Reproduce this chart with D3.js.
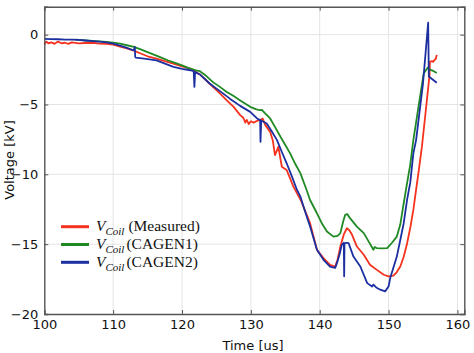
<!DOCTYPE html>
<html><head><meta charset="utf-8">
<script src="https://cdn.jsdelivr.net/npm/d3@7"></script>
<style>body{margin:0;background:#fff}svg{display:block}</style>
</head><body>
<svg id="c" width="474" height="353"></svg>
<script>
// ---- data (time in us, voltage in kV) ----
const measuredT = [100,100.3,100.6,101,101.5,102,102.5,103,103.5,104,105,106,107,108,109,110,111,112,113,114,115,116.3,117.5,118.75,120,121.2,122.6,124,125.5,126.5,127.5,128.45,128.9,129.2,129.4,129.7,130,130.4,131,131.35,131.7,132.1,132.8,133.2,133.5,134,134.5,135.2,136.2,137.3,138.6,139.6,140.55,141.5,142.25,142.6,143,143.5,143.95,144.3,144.7,145.4,146.4,147.3,148.3,149.3,150,150.7,151.2,151.7,152.2,152.7,153.2,153.6,154,154.4,154.85,155.5,155.95,156,156.3,156.5,156.7,156.85,157];
const measuredV = [-0.7,-0.5,-0.62,-0.55,-0.66,-0.5,-0.62,-0.58,-0.66,-0.55,-0.62,-0.6,-0.58,-0.64,-0.66,-0.72,-0.85,-0.98,-1.15,-1.35,-1.55,-1.71,-1.9,-2.07,-2.28,-2.43,-2.85,-3.5,-4.21,-4.7,-5.17,-5.76,-5.95,-6.3,-6.1,-6.4,-6.2,-6.3,-6.15,-6.12,-6.0,-6.48,-6.96,-7.6,-8.62,-8.03,-9.46,-9.69,-10.9,-11.9,-13.5,-15.4,-16.0,-16.48,-16.6,-16.1,-15.17,-14.3,-13.86,-14.0,-14.33,-15.17,-15.76,-16.48,-16.84,-17.19,-17.3,-17.25,-17.0,-16.6,-15.9,-14.93,-13.7,-12.55,-11.1,-9.69,-8.0,-5.0,-2.9,-1.95,-1.9,-1.95,-1.8,-1.75,-1.45];

const cagen1T = [104.5,105,106,107,108,109,110,111,112,113,114,115,116,117,118,119,120,121,122,122.6,123.5,124.5,125.5,126.5,127.5,128.4,129.9,130.8,131.3,131.6,132,132.8,133.5,134.3,135,135.7,136.5,137.2,138.1,138.6,139.6,140.3,141.05,142,142.6,143,143.4,143.7,144,144.4,145.4,146.4,147.1,147.8,148,148.3,149,149.8,150.5,151.2,151.7,152.2,152.7,153.15,153.6,154.4,155.1,155.7,156,156.5,157];
const cagen1V = [-0.35,-0.38,-0.42,-0.45,-0.48,-0.52,-0.57,-0.65,-0.76,-0.88,-1.05,-1.25,-1.45,-1.65,-1.85,-2.02,-2.2,-2.4,-2.55,-2.62,-2.95,-3.4,-3.74,-4.1,-4.4,-4.69,-5.17,-5.35,-5.4,-5.38,-5.6,-6.0,-6.6,-7.31,-7.9,-8.5,-9.3,-9.93,-11.12,-11.84,-12.79,-13.5,-14.1,-14.46,-14.4,-14.21,-13.4,-12.9,-12.85,-13.14,-13.74,-14.21,-14.8,-15.4,-15.2,-15.29,-15.3,-15.29,-14.9,-14.46,-13.6,-12.07,-10.6,-9.3,-7.55,-5.0,-2.79,-2.35,-2.5,-2.6,-2.75];

const cagen2T = [100,101,102,103,104,105,106,107,108,109,110,111,112,112.9,113.1,113.15,113.2,113.3,114.5,116.3,118.75,120,121.2,121.7,121.8,121.9,122.6,124,125.8,127,128.45,129.9,130.9,131.35,131.4,131.5,132.3,133,133.8,134.5,135.2,136,136.7,137.2,137.9,138.6,139.6,140.55,141.5,142.25,142.5,142.9,143.2,143.5,143.55,143.6,143.9,144.2,144.9,145.9,146.9,147.6,147.8,148.2,148.8,149.5,150,150.25,151.2,151.7,152.2,152.7,153.15,153.6,154,155,155.75,155.85,157];
const cagen2V = [-0.3,-0.32,-0.33,-0.35,-0.36,-0.38,-0.42,-0.46,-0.5,-0.56,-0.64,-0.78,-0.95,-1.12,-1.0,-0.88,-1.6,-1.65,-1.72,-1.84,-2.31,-2.45,-2.55,-2.62,-3.74,-2.68,-2.85,-3.5,-4.15,-4.6,-5.1,-5.53,-6.0,-6.12,-7.67,-6.15,-6.36,-6.9,-7.55,-8.4,-9.21,-10.2,-11.12,-11.6,-12.7,-13.74,-15.4,-16.12,-16.6,-16.7,-16.36,-15.7,-15.05,-14.9,-17.3,-14.95,-14.9,-14.93,-15.89,-16.6,-17.79,-18.03,-17.9,-18.1,-18.26,-18.38,-18.03,-17.4,-15.89,-14.7,-13.5,-11.8,-10.6,-8.5,-7.55,-3.5,0.85,-3.0,-3.45];

const xTicks = [100,110,120,130,140,150,160];
const yTicks = [0,-5,-10,-15,-20];
const seriesNames = ["(Measured)","(CAGEN1)","(CAGEN2)"];
const seriesColors = ["#f5321e","#1f8a24","#1c2fa0"];

// ---- layout ----
const svg = d3.select("#c");
const L = 44.3, R = 464.3, T = 6.7, B = 314;
const x = d3.scaleLinear().domain([100,161]).range([L,R]);
const y = d3.scaleLinear().domain([-20,2]).range([B,T]);

// grid
const g = svg.append("g");
g.selectAll(".gx").data(xTicks.filter(d=>d>100)).join("line")
  .attr("x1",d=>x(d)).attr("x2",d=>x(d)).attr("y1",T).attr("y2",B)
  .attr("stroke","#e4e4e4").attr("stroke-width",1);
g.selectAll(".gy").data(yTicks.filter(d=>d>-20)).join("line")
  .attr("x1",L).attr("x2",R).attr("y1",d=>y(d)).attr("y2",d=>y(d))
  .attr("stroke","#e4e4e4").attr("stroke-width",1);

// series
const sets = [[measuredT,measuredV],[cagen1T,cagen1V],[cagen2T,cagen2V]];
const line = d3.line().x(d=>x(d[0])).y(d=>y(d[1]));
sets.forEach((s,i)=>{
  const pts = s[0].map((t,j)=>[t,s[1][j]]);
  svg.append("path").datum(pts).attr("d",line).attr("fill","none")
    .attr("stroke",seriesColors[i]).attr("stroke-width",1.8).attr("stroke-linejoin","round");
});

// axes (MATLAB-like inward ticks on all sides)
const axCol = "#555";
const fmt = d => d < 0 ? "\u2212" + Math.abs(d) : String(d);
const ax = [
  svg.append("g").attr("transform",`translate(0,${B})`).call(d3.axisBottom(x).tickValues(xTicks).tickSize(-4).tickPadding(6).tickFormat(fmt)),
  svg.append("g").attr("transform",`translate(0,${T})`).call(d3.axisTop(x).tickValues(xTicks).tickSize(-4).tickFormat("")),
  svg.append("g").attr("transform",`translate(${L},0)`).call(d3.axisLeft(y).tickValues(yTicks).tickSize(-4).tickPadding(6).tickFormat(fmt)),
  svg.append("g").attr("transform",`translate(${R},0)`).call(d3.axisRight(y).tickValues(yTicks).tickSize(-4).tickFormat(""))
];
ax.forEach(a=>{
  a.select(".domain").attr("stroke",axCol).attr("stroke-width",1.4);
  a.selectAll(".tick line").attr("stroke",axCol);
  a.selectAll("text").attr("fill","#111").style("font-family","DejaVu Sans, sans-serif").style("font-size","13px");
});

// axis labels
svg.append("text").attr("x",253).attr("y",350).attr("text-anchor","middle")
  .style("font-family","DejaVu Sans, sans-serif").style("font-size","13px").attr("fill","#111").text("Time [us]");
svg.append("text").attr("transform","translate(14,160) rotate(-90)").attr("text-anchor","middle")
  .style("font-family","DejaVu Sans, sans-serif").style("font-size","13px").attr("fill","#111").text("Voltage [kV]");

// legend
const lg = svg.append("g");
seriesNames.forEach((n,i)=>{
  const yy = 226.7 + i*17.8;
  lg.append("line").attr("x1",61).attr("x2",89).attr("y1",yy).attr("y2",yy)
    .attr("stroke",seriesColors[i]).attr("stroke-width",3);
  const t = lg.append("text").attr("x",96).attr("y",yy+4.5)
    .style("font-family","Liberation Serif, Times New Roman, serif").style("font-size","15.5px").attr("fill","#111");
  t.append("tspan").style("font-style","italic").text("V");
  t.append("tspan").style("font-style","italic").style("font-size","11px").attr("dy",4).text("Coil");
  t.append("tspan").attr("dy",-4).attr("dx", i===0?4:2).text(n);
});
</script>
</body></html>
